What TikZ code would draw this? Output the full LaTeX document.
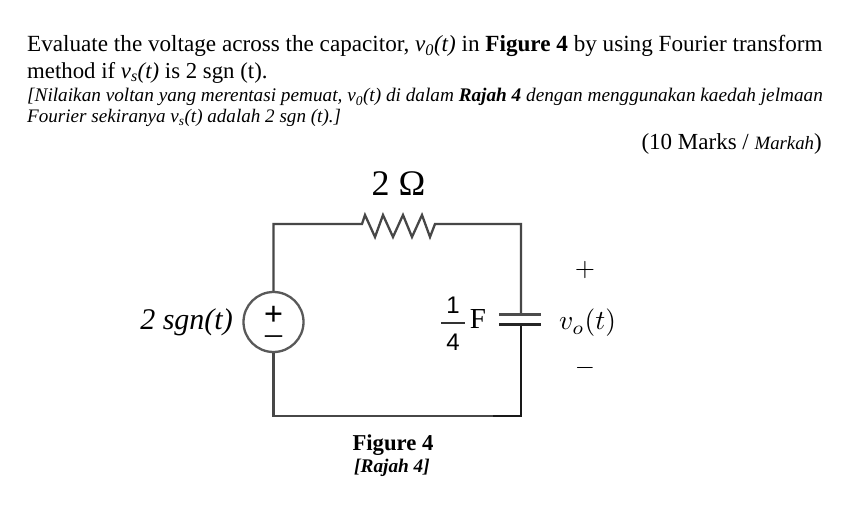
\documentclass[tikz,border=0pt]{standalone}
\usepackage{fontspec}
\setmainfont{Liberation Serif}
\newfontfamily\labelsans{Liberation Sans}
\usetikzlibrary{positioning}
\tikzstyle{wire} = [line width=2.3pt,draw=black!72,line join=miter]
\tikzstyle{darkwire} = [line width=2.4pt,draw=black!90]
\tikzstyle{plate} = [line width=3pt,draw=black!70]
\tikzstyle{textline} = [anchor=base west,inner sep=0pt]
\newcommand{\fs}[1]{\fontsize{#1}{#1}\selectfont}

\begin{document}
\begin{tikzpicture}[x=1pt,y=-1pt]
  \useasboundingbox (0,0) rectangle (852,511);
  \fill[white] (0,0) rectangle (852,511);

  % QUESTION TEXT
  \node[textline] (line1) at (27,52) {\fs{23.15}Evaluate the voltage across the capacitor, \textit{v\textsubscript{0}(t)} in \textbf{Figure 4} by using Fourier transform};
  \node[textline] (line2) at (27,78) {\fs{22.8}method if \textit{v\textsubscript{s}(t)} is 2 sgn (t).};
  \node[textline] (line3) at (27,102) {\fs{19.25}\itshape [Nilaikan voltan yang merentasi pemuat, v\textsubscript{0}(t) di dalam \textbf{Rajah 4} dengan menggunakan kaedah jelmaan};
  \node[textline] (line4) at (27,122) {\fs{19.1}\itshape Fourier sekiranya v\textsubscript{s}(t) adalah 2 sgn (t).]};
  \node[inner sep=0pt,anchor=base east] (marks) at (822,149) {\fs{23}(10 Marks / {\fs{18.8}\itshape Markah})};

  % CORNERS
  \coordinate (tl) at (273,224);
  \coordinate (tr) at (521,224);
  \coordinate (bl) at (273,416);
  \coordinate (br) at (521,416);
  \coordinate (bm) at (493,416);
  \coordinate (resin) at (362,224);
  \coordinate (resout) at (435,224);
  \coordinate (captop) at (521,314);
  \coordinate (capbot) at (521,324);

  % SOURCE
  \node[circle,draw=black!65,line width=2.3pt,minimum size=60pt,inner sep=0pt] (src) at (273.5,322) {};
  \node[inner sep=0pt] (srcplus) at (273.5,315.5) {\fs{34}\bfseries +};
  \node[inner sep=0pt] (srcminus) at (273.5,340) {\fs{34}–};
  \node[inner sep=0pt,anchor=east] (srclabel) at (233,322) {\fs{30}\itshape 2 sgn(t)};

  % top wire and resistor
  \draw[wire] (src.north) -- (src.north |- tl) -- (resin)
    -- (365,215) -- (375,237) -- (383,215) -- (393,237)
    -- (403,215) -- (412,237) -- (422,215) -- (430,237) -- (resout)
    -- (tr) -- (captop);
  \node[inner sep=0pt] (reslabel) at (398.5,184) {\fs{36}2 Ω};

  % bottom wire
  \draw[wire] (src.south) -- (src.south |- bl) -- (bm);
  \draw[darkwire] (bm) -- (br) -- (capbot);

  % CAPACITOR
  \draw[plate] (499,314) -- (captop) -- (541,314);
  \draw[plate,draw=black!85] (499,324) -- (capbot) -- (541,324);
  \node[inner sep=0pt] (capnum) at (453,305) {\fs{24}\labelsans 1};
  \node[inner sep=0pt] (capden) at (453,342) {\fs{24}\labelsans 4};
  \draw[line width=1.5pt,black!80] (441,323) -- (465,323);
  \node[inner sep=0pt] (capunit) at (478,319) {\fs{29}F};

  % OUTPUT VOLTAGE
  \node[inner sep=0pt,scale=2.6] (voplus) at (585,270) {$+$};
  \node[inner sep=0pt,scale=2.75] (volabel) at (587.5,323) {$v_o(t)$};
  \node[inner sep=0pt,scale=2.6] (vominus) at (585,368) {$-$};

  % CAPTION
  \node[inner sep=0pt] (caption) at (393,445) {\fs{22.7}\bfseries Figure 4};
  \node[inner sep=0pt] (captionms) at (392,468) {\fs{19.3}\bfseries\itshape [Rajah 4]};
\end{tikzpicture}
\end{document}
